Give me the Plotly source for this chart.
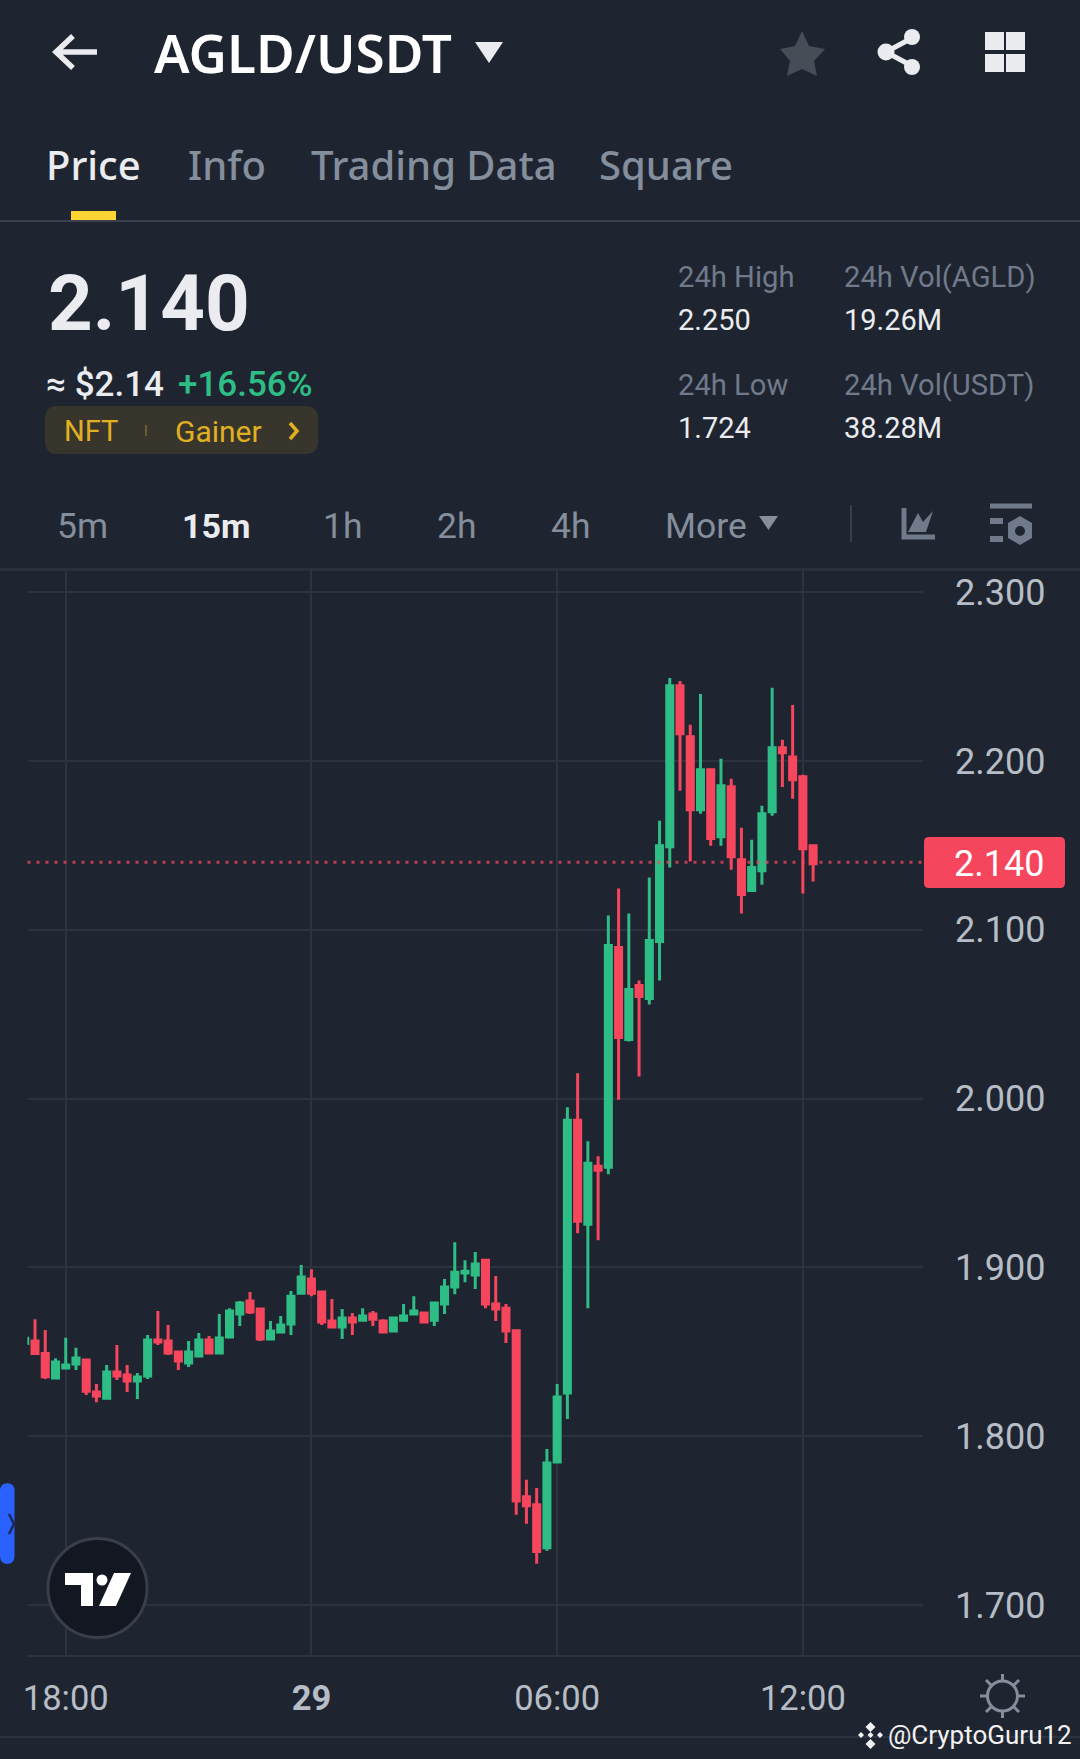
import pandas as pd
import plotly.graph_objects as go

W, H = 1080, 1759
BG = "#1f2530"
UP = "#2ebd85"
DOWN = "#f6465d"
GRID = "#2d333e"
LIGHT = "#eaecef"
GREY = "#848e9c"
MUTED = "#707a8a"

first_candle = "2022-03-28 17:00"
open_ = [1.855,1.8564,1.8491,1.8345,1.8404,1.8428,1.8452,1.8262,1.8225,1.8381,1.8363,1.8328,1.8357,1.8570,1.8564,1.8499,1.8434,1.8475,1.8570,1.8493,1.8588,1.8724,1.8801,1.8754,1.8576,1.8617,1.8665,1.8848,1.8931,1.8854,1.8683,1.8647,1.8700,1.8688,1.8724,1.8683,1.8623,1.8688,1.8724,1.8730,1.8688,1.8783,1.8884,1.8967,1.8955,1.9043,1.8783,1.8759,1.8625,1.7641,1.7594,1.7339,1.7848,1.8256,1.9872,1.9256,1.9600,1.9594,2.0895,2.0351,2.0670,2.0594,2.0931,2.1493,2.2446,2.2144,2.1712,2.1949,2.1552,2.1848,2.1416,2.1233,2.1351,2.1700,2.2079,2.2025,2.1907,2.1499]
high = [1.858,1.8694,1.8629,1.8462,1.8584,1.8525,1.8452,1.8310,1.8422,1.8541,1.8422,1.8375,1.8600,1.8742,1.8659,1.8499,1.8564,1.8612,1.8594,1.8724,1.8759,1.8801,1.8854,1.8754,1.8683,1.8712,1.8860,1.9014,1.8990,1.8860,1.8813,1.8754,1.8730,1.8759,1.8742,1.8694,1.8700,1.8783,1.8830,1.8730,1.8789,1.8931,1.9150,1.9043,1.9091,1.9049,1.8949,1.8783,1.8629,1.7742,1.7694,1.7925,1.8310,1.9949,2.0150,1.9748,1.9659,2.1085,2.1245,2.1097,2.0700,2.1310,2.1647,2.2493,2.2475,2.2215,2.2398,2.1949,2.2014,2.1895,2.1605,2.1534,2.1736,2.2434,2.2126,2.2333,2.1919,2.1499]
low = [1.855,1.8491,1.8339,1.8339,1.8404,1.8393,1.8245,1.8201,1.8221,1.8333,1.8262,1.8221,1.8339,1.8541,1.8481,1.8393,1.8410,1.8475,1.8493,1.8493,1.8588,1.8653,1.8724,1.8564,1.8576,1.8612,1.8600,1.8842,1.8830,1.8659,1.8647,1.8576,1.8600,1.8683,1.8653,1.8617,1.8623,1.8683,1.8724,1.8671,1.8653,1.8724,1.8842,1.8913,1.8872,1.8759,1.8683,1.8552,1.7535,1.7481,1.7245,1.7322,1.7848,1.8103,1.9203,1.8759,1.9162,1.9552,1.9994,2.0339,2.0132,2.0558,2.0700,2.1369,2.1825,2.1405,2.1688,2.1499,2.1499,2.1357,2.1097,2.1233,2.1268,2.1676,2.1846,2.1777,2.1215,2.1286]
close = [1.858,1.8491,1.8353,1.8440,1.8422,1.8464,1.8266,1.8239,1.8381,1.8357,1.8328,1.8351,1.8570,1.8558,1.8493,1.8446,1.8499,1.8570,1.8493,1.8582,1.8742,1.8789,1.8736,1.8576,1.8623,1.8659,1.8830,1.8943,1.8848,1.8677,1.8647,1.8700,1.8677,1.8712,1.8694,1.8617,1.8700,1.8712,1.8742,1.8677,1.8789,1.8884,1.8972,1.8978,1.9020,1.8783,1.8754,1.8623,1.7617,1.7588,1.7318,1.7842,1.8233,1.9872,1.9274,1.9617,1.9576,2.0908,2.0363,2.0647,2.0605,2.0937,2.1499,2.2446,2.2162,2.1712,2.1949,2.1541,2.1854,2.1434,2.1209,2.1369,2.1688,2.2079,2.2049,2.1889,2.1481,2.1392]

times = pd.date_range(first_candle, periods=len(open_), freq="15min")

price_ticks = [1.7, 1.8, 1.9, 2.0, 2.1, 2.2, 2.3]
price_labels = ["1.700", "1.800", "1.900", "2.000", "2.100", "2.200", "2.300"]
time_ticks = ["2022-03-28 18:00", "2022-03-29 00:00", "2022-03-29 06:00", "2022-03-29 12:00"]
time_labels = ["18:00", "<b>29</b>", "06:00", "12:00"]
last_price = 2.14


def px(x):
    return x / W


def py(y):
    return 1 - y / H


def path(points, close_path=True):
    d = "M" + " L".join(f"{px(x):.5f},{py(y):.5f}" for x, y in points)
    return d + (" Z" if close_path else "")


def rrect(x0, y0, x1, y1, r):
    k = r
    return (f"M{px(x0+k):.5f},{py(y0):.5f} L{px(x1-k):.5f},{py(y0):.5f} "
            f"Q{px(x1):.5f},{py(y0):.5f} {px(x1):.5f},{py(y0+k):.5f} "
            f"L{px(x1):.5f},{py(y1-k):.5f} Q{px(x1):.5f},{py(y1):.5f} {px(x1-k):.5f},{py(y1):.5f} "
            f"L{px(x0+k):.5f},{py(y1):.5f} Q{px(x0):.5f},{py(y1):.5f} {px(x0):.5f},{py(y1-k):.5f} "
            f"L{px(x0):.5f},{py(y0+k):.5f} Q{px(x0):.5f},{py(y0):.5f} {px(x0+k):.5f},{py(y0):.5f} Z")


shapes, notes = [], []


def fill(d, color, layer="above"):
    shapes.append(dict(type="path", xref="paper", yref="paper", path=d, fillcolor=color,
                       line=dict(width=0), layer=layer))


def stroke(pts, color, width, closed=False, layer="above"):
    shapes.append(dict(type="path", xref="paper", yref="paper", path=path(pts, closed),
                       line=dict(color=color, width=width), layer=layer))


def circle(cx, cy, r, fillc=None, linec=None, lw=0, layer="above"):
    shapes.append(dict(type="circle", xref="paper", yref="paper", x0=px(cx-r), x1=px(cx+r),
                       y0=py(cy+r), y1=py(cy-r), fillcolor=fillc or "rgba(0,0,0,0)",
                       line=dict(color=linec or "rgba(0,0,0,0)", width=lw), layer=layer))


def text(s, x, y, size, color, font="Noto Sans", weight=400, anchor="left"):
    notes.append(dict(text=s, xref="paper", yref="paper", x=px(x), y=py(y), xanchor=anchor,
                      yanchor="middle", showarrow=False, align=anchor,
                      borderpad=0, font=dict(family=font, size=size, color=color, weight=weight)))


# header
stroke([(97, 52), (57, 52)], LIGHT, 5.5)
stroke([(73, 36), (56, 52), (73, 68)], LIGHT, 5.5)
text("AGLD/USDT", 153, 52, 53, "#ffffff", weight=600)
fill(path([(475, 42), (503, 42), (489, 63)]), LIGHT)
fill(path([(802, 31), (809, 46), (825, 49), (814, 61), (817, 76), (802, 69), (787, 76), (790, 61), (780, 49), (795, 46)]), "#474d57")
stroke([(912, 38), (886, 52), (912, 66)], LIGHT, 5)
circle(912, 37, 8, LIGHT)
circle(886, 52, 8.5, LIGHT)
circle(912, 67, 8, LIGHT)
for x0, y0 in [(985, 32), (1006, 32), (985, 54), (1006, 54)]:
    fill(path([(x0, y0), (x0+19, y0), (x0+19, y0+18), (x0, y0+18)]), LIGHT)

# tabs
text("Price", 45, 165, 40, LIGHT, weight=500)
text("Info", 187, 165, 40, GREY, weight=500)
text("Trading Data", 310, 165, 40, GREY, weight=500)
text("Square", 598, 165, 40, GREY, weight=500)
fill(path([(71, 211), (116, 211), (116, 220), (71, 220)]), "#fcd535")
stroke([(0, 221), (W, 221)], "#3a404b", 2)

# price block
text("2.140", 47, 303, 78, LIGHT, font="Roboto", weight=700)
text("≈ $2.14", 45, 385, 35, LIGHT, font="Roboto", weight=500)
text("+16.56%", 177, 385, 35, UP, font="Roboto", weight=500)
fill(rrect(45, 406, 318, 454, 13), "#38362c")
text("NFT", 63, 431, 29, "#e0b021", font="Roboto")
fill(path([(145, 425), (147, 425), (147, 436), (145, 436)]), "#6b5f2c")
text("Gainer", 174, 431, 30, "#e0b021", font="Roboto")
stroke([(290, 423), (297, 431), (290, 439)], "#e0b021", 3.5)

# 24h stats
stat_names = ["24h High", "24h Vol(AGLD)", "24h Low", "24h Vol(USDT)"]
stat_values = ["2.250", "19.26M", "1.724", "38.28M"]
stat_x = [677, 843, 677, 843]
stat_y = [277, 277, 385, 385]
for n, v, x, y in zip(stat_names, stat_values, stat_x, stat_y):
    text(n, x, y, 29.2, MUTED, font="Roboto")
    text(v, x, y + 43, 29, LIGHT, font="Roboto")

# intervals
for s, x, c, w, fs in [("5m", 56, GREY, 400, 35.5), ("15m", 181, LIGHT, 700, 34), ("1h", 322, GREY, 400, 35.5),
                       ("2h", 436, GREY, 400, 35.5), ("4h", 550, GREY, 400, 35.5), ("More", 664, GREY, 400, 35.5)]:
    text(s, x, 526, fs, c, font="Roboto", weight=w)
fill(path([(759, 516), (778, 516), (768.5, 530)]), GREY)
stroke([(851, 505), (851, 542)], "#3a404b", 2)
stroke([(904, 508), (904, 537), (935, 537)], MUTED, 5)
fill(path([(908, 532), (918, 513), (923, 522), (933, 511), (926, 532)]), MUTED)
stroke([(990, 506), (1032, 506)], MUTED, 5)
fill(path([(990, 518), (1003, 518), (1003, 524), (990, 524)]), MUTED)
fill(path([(990, 536), (1003, 536), (1003, 542), (990, 542)]), MUTED)
fill(path([(1020, 516), (1032, 523), (1032, 538), (1020, 545), (1008, 538), (1008, 523)]), MUTED)
circle(1020, 531, 5, BG)
stroke([(0, 569.5), (W, 569.5)], "#2a303a", 3, layer="below")

# price line and tag
shapes.append(dict(type="line", xref="x domain", yref="y", x0=0, x1=1, y0=last_price, y1=last_price,
                   line=dict(color="rgba(246,70,93,0.72)", width=3, dash="3px,6px"), layer="above"))
fill(rrect(924, 837, 1065, 888, 5), DOWN)
text("2.140", 999, 864, 36, "#ffffff", font="Roboto", anchor="center")

# bottom furniture
stroke([(27, 1656), (W, 1656)], GRID, 2, layer="below")
stroke([(0, 1737), (W, 1737)], GRID, 2, layer="below")
fill(rrect(0, 1483, 14.5, 1564, 8), "#2962ff")
stroke([(9, 1514), (14, 1524), (9, 1534)], "#1b2a55", 2.5)
circle(97.5, 1588, 49.5, "#131722", "#3a3e4a", 3)
fill(path([(65, 1573), (93, 1573), (93, 1606), (81, 1606), (81, 1585), (65, 1585)]), "#ffffff")
circle(102, 1580, 5.5, "#ffffff")
fill(path([(114, 1573), (131, 1573), (116, 1606), (99, 1606)]), "#ffffff")

circle(1002.5, 1696, 15, None, GREY, 3)
for a, b in [((1002.5, 1674), (1002.5, 1681)), ((1002.5, 1711), (1002.5, 1718)),
             ((980, 1696), (987, 1696)), ((1018, 1696), (1025, 1696)),
             ((986, 1680), (991, 1685)), ((1014, 1707), (1019, 1712)),
             ((986, 1712), (991, 1707)), ((1014, 1685), (1019, 1680))]:
    stroke([a, b], GREY, 3)

for cx, cy, r in [(870.5, 1727, 5), (861, 1735, 3), (880, 1735, 3), (870.5, 1735, 3), (870.5, 1744, 5)]:
    fill(path([(cx, cy-r), (cx+r, cy), (cx, cy+r), (cx-r, cy)]), "#f2f2f2")
text("@CryptoGuru12", 1073, 1735, 26, "#f2f2f2", font="Roboto", anchor="right")

fig = go.Figure(go.Candlestick(
    x=times, open=open_, high=high, low=low, close=close,
    increasing=dict(line=dict(color=UP, width=3), fillcolor=UP),
    decreasing=dict(line=dict(color=DOWN, width=3), fillcolor=DOWN),
    whiskerwidth=0, showlegend=False, hoverinfo="skip",
))

fig.update_layout(
    width=W, height=H, margin=dict(l=0, r=0, t=0, b=0, autoexpand=False), autosize=False,
    paper_bgcolor=BG, plot_bgcolor=BG, showlegend=False,
    boxgap=0.41, boxgroupgap=0,
    shapes=shapes, annotations=notes,
    font=dict(family="Roboto", color="#b7bdc6"),
    xaxis=dict(
        domain=[px(27.5), px(923)], type="date",
        range=["2022-03-28 17:04", "2022-03-29 14:56"],
        rangeslider=dict(visible=False),
        tickmode="array", tickvals=time_ticks, ticktext=time_labels,
        showgrid=True, gridcolor=GRID, gridwidth=2, zeroline=False, showline=False,
        ticks="", tickfont=dict(size=34.5, color="#b7bdc6"), ticklabelstandoff=19,
    ),
    yaxis=dict(
        domain=[py(1655.7), py(568)], side="right",
        range=[1.6700, 2.3144],
        tickmode="array", tickvals=price_ticks, ticktext=price_labels,
        showgrid=True, gridcolor=GRID, gridwidth=2, zeroline=False, showline=False,
        ticks="", tickfont=dict(size=36, color="#b7bdc6"), ticklabelstandoff=31,
    ),
)

fig.write_html("out.html", config=dict(displayModeBar=False),
               post_script="document.body.style.margin='0';document.body.style.overflow='hidden';document.body.style.background='#1f2530';")
